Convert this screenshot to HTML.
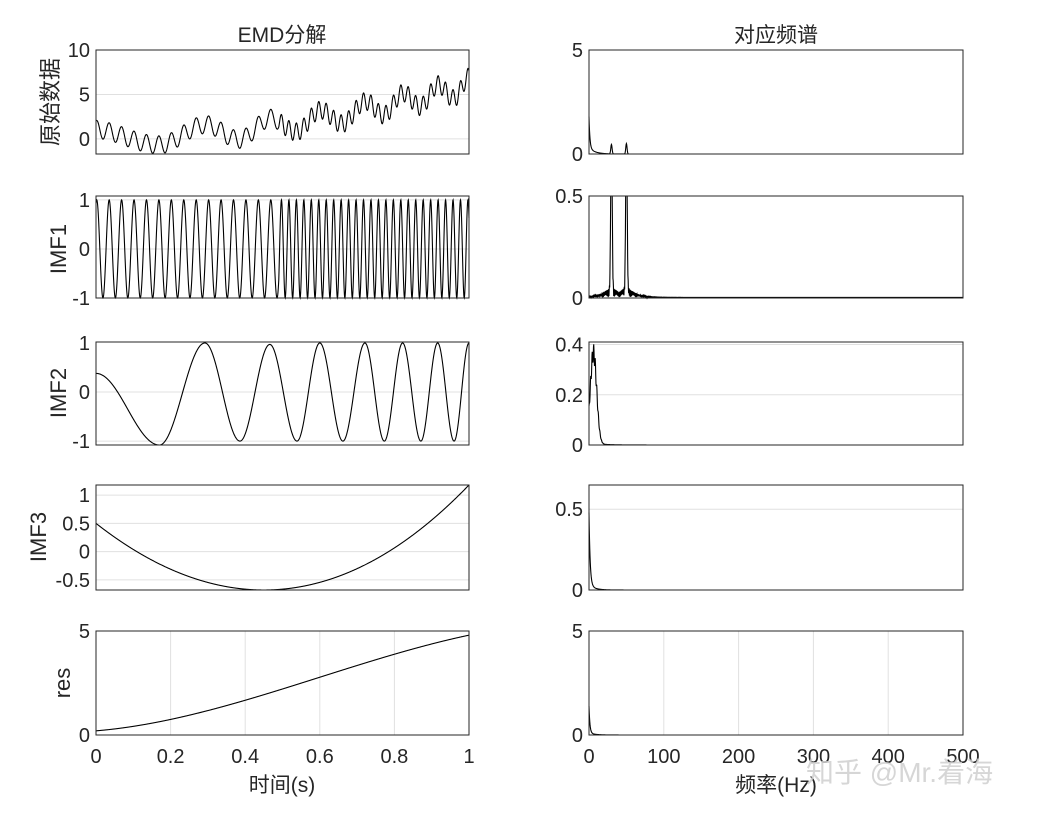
<!DOCTYPE html>
<html><head><meta charset="utf-8"><style>
html,body{margin:0;padding:0;background:#fff;}
svg{display:block;}
text{font-family:"Liberation Sans","Noto Sans CJK SC",sans-serif;fill:#262626;}
</style></head><body>
<svg id="s" width="1039" height="815" xmlns="http://www.w3.org/2000/svg"></svg>
<script>
const S=document.getElementById('s');let out='';
const L=[96,469],R=[589,963];
function ax(xr,yr,ymin,ymax,ticks,fn,xmax,xticks,xlabels){
  const [x0,x1]=xr,[y0,y1]=yr;
  const Y=v=>y1-(v-ymin)/(ymax-ymin)*(y1-y0);
  const X=t=>x0+t/xmax*(x1-x0);
  let g='';
  ticks.forEach(([v,l])=>{const y=Y(v);
    if(y>y0+1&&y<y1-1)g+=`<line x1="${x0}" x2="${x1}" y1="${y}" y2="${y}" stroke="#e0e0e0"/>`;
    g+=`<text x="${x0-6}" y="${y+7}" font-size="20" text-anchor="end">${l}</text>`;});
  if(xticks){xticks.forEach((v,i)=>{const x=X(v);
    if(x>x0+1&&x<x1-1)g+=`<line x1="${x}" x2="${x}" y1="${y0}" y2="${y1}" stroke="#e0e0e0"/>`;
    g+=`<text x="${x}" y="${y1+28}" font-size="20" text-anchor="middle">${xlabels[i]}</text>`;});}
  let d='';const N=1500;
  for(let i=0;i<=N;i++){const t=i/N*xmax;let v=fn(t);let y=Math.max(y0,Math.min(y1,Y(v)));d+=(i?'L':'M')+X(t).toFixed(2)+' '+y.toFixed(2);}
  g+=`<path d="${d}" fill="none" stroke="#000" stroke-width="1.1"/>`;
  g+=`<rect x="${x0}" y="${y0}" width="${x1-x0}" height="${y1-y0}" fill="none" stroke="#262626" stroke-width="1"/>`;
  out+=g;
}
function imf1(t){return t<0.49?Math.sin(2*Math.PI*30*t+1.2):Math.sin(2*Math.PI*50*(t-0.49)+2*Math.PI*30*0.49+1.2);}
const ex=[[0,0.38],[0.17,-1.08],[0.292,1],[0.386,-1],[0.466,0.97],[0.539,-1],[0.60,1],[0.662,-1],[0.721,1],[0.773,-1],[0.822,1],[0.871,-1],[0.916,1],[0.96,-1],[1.0,1]];
function imf2(t){for(let i=0;i<ex.length-1;i++){const[a,va]=ex[i],[b,vb]=ex[i+1];if(t<=b){const u=(t-a)/(b-a);const w=(1-Math.cos(Math.PI*u))/2;return va+(vb-va)*w;}}return 1;}
function imf3(t){const a=5.83+0.32*(t);const d=t-0.45;return a*d*d-0.68;}
function res(t){return 0.2+1.5*t+7*t*t-3.9*t*t*t;}
function orig(t){return imf1(t)+imf2(t)+imf3(t)+res(t);}
function pk(f,c,h,w){return h*Math.exp(-Math.pow((f-c)/w,2));}
function sp1(f){let v=1.5*Math.exp(-f/1.2)+0.3*Math.exp(-f/8)+pk(f,30,0.45,1.2)+pk(f,50,0.5,1.2);return v;}
function sp2(f){let v=pk(f,30,0.9,1.3)+pk(f,50,0.9,1.3);let d=Math.min(Math.abs(f-30),Math.abs(f-50));v+=0.06*Math.abs(Math.cos(f*3))*Math.exp(-d/12);return v+0.003;}
function sp3(f){return 0.36*Math.exp(-Math.pow((f-6)/6,2))*(1+0.1*Math.cos(f*3))+0.01*Math.exp(-f/15);}
function sp4(f){return 0.45*Math.exp(-f/1.5)+0.03*Math.exp(-f/8);}
function sp5(f){return 1.3*Math.exp(-f/1.2)+0.1*Math.exp(-f/8);}
const r=[[50,154],[196,298],[342,445],[485,590],[631,735]];
ax(L,r[0],-1.7,10,[[0,'0'],[5,'5'],[10,'10']],orig,1);
ax(L,r[1],-1,1.08,[[-1,'-1'],[0,'0'],[1,'1']],imf1,1);
ax(L,r[2],-1.08,1.02,[[-1,'-1'],[0,'0'],[1,'1']],imf2,1);
ax(L,r[3],-0.68,1.18,[[-0.5,'-0.5'],[0,'0'],[0.5,'0.5'],[1,'1']],imf3,1);
ax(L,r[4],0,5,[[0,'0'],[5,'5']],res,1,[0,0.2,0.4,0.6,0.8,1],['0','0.2','0.4','0.6','0.8','1']);
ax(R,r[0],0,5,[[0,'0'],[5,'5']],sp1,500);
ax(R,r[1],0,0.5,[[0,'0'],[0.5,'0.5']],sp2,500);
ax(R,r[2],0,0.41,[[0,'0'],[0.2,'0.2'],[0.4,'0.4']],sp3,500);
ax(R,r[3],0,0.65,[[0,'0'],[0.5,'0.5']],sp4,500);
ax(R,r[4],0,5,[[0,'0'],[5,'5']],sp5,500,[0,100,200,300,400,500],['0','100','200','300','400','500']);
out+=`<text x="282" y="42" font-size="21" text-anchor="middle">EMD分解</text>`;
out+=`<text x="776" y="42" font-size="21" text-anchor="middle">对应频谱</text>`;
out+=`<text x="282" y="792" font-size="21" text-anchor="middle">时间(s)</text>`;
out+=`<text x="776" y="792" font-size="21" text-anchor="middle">频率(Hz)</text>`;
const yl=[['原始数据',58,102],['IMF1',66,249],['IMF2',66,393],['IMF3',46,537],['res',70,683]];
yl.forEach(([t,x,y])=>{out+=`<text x="${x}" y="${y}" font-size="22" text-anchor="middle" transform="rotate(-90 ${x} ${y})">${t}</text>`;});
out+=`<text x="806" y="782" font-size="28" style="fill:#d0d0d0;opacity:0.85">知乎 @Mr.着海</text>`;
S.innerHTML=out;
</script>
</body></html>
